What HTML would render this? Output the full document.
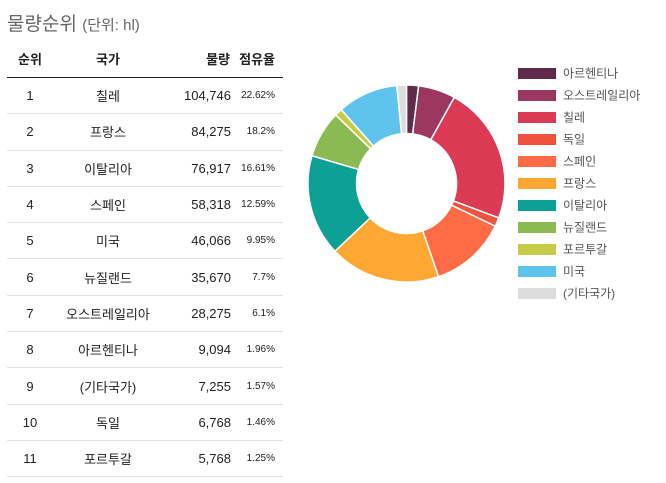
<!DOCTYPE html>
<html><head><meta charset="utf-8"><style>
body{margin:0;width:666px;height:483px;background:#fff;font-family:"Liberation Sans","Noto Sans CJK KR",sans-serif;position:relative;overflow:hidden}
.title{position:absolute;left:7px;top:9px;font-size:19px;color:#666}
.title span{font-size:15px}
table{position:absolute;left:7px;top:40px;width:276px;border-collapse:collapse;font-size:13px;color:#222}
th{height:35px;font-weight:bold;border-bottom:1.5px solid #222;font-size:13px}
td{height:35.3px;border-bottom:1px solid #e2e2e2;padding:0}
.c1{text-align:center;width:44px}.c2{text-align:center;width:108px}.c3{text-align:right;width:66px}.c4{text-align:right;font-size:10px;padding-right:8px}
th.c3{text-align:right}th.c4{text-align:right;font-size:13px}
#legend text{font-size:12px;fill:#555}
</style></head><body>
<div class="title">물량순위 <span>(단위: hl)</span></div>
<table><thead><tr><th class="c1">순위</th><th class="c2">국가</th><th class="c3">물량</th><th class="c4">점유율</th></tr></thead><tbody id="tb"></tbody></table>
<svg id="chart" width="666" height="483" style="position:absolute;left:0;top:0"><g id="slices"></g><g id="legend"></g></svg>
<script>
const tableCountries=["칠레","프랑스","이탈리아","스페인","미국","뉴질랜드","오스트레일리아","아르헨티나","(기타국가)","독일","포르투갈"];
const tableVolumes=[104746,84275,76917,58318,46066,35670,28275,9094,7255,6768,5768];
const tableShares=["22.62%","18.2%","16.61%","12.59%","9.95%","7.7%","6.1%","1.96%","1.57%","1.46%","1.25%"];
const sliceNames=["아르헨티나","오스트레일리아","칠레","독일","스페인","프랑스","이탈리아","뉴질랜드","포르투갈","미국","(기타국가)"];
const sliceValues=[9094,28275,104746,6768,58318,84275,76917,35670,5768,46066,7255];
const sliceColors=["#612a4a","#9b3761","#db3a55","#ef5340","#fe6b45","#fea833","#0da094","#8bba52","#c6cc47","#5ec4ee","#dddddd"];
const tb=document.getElementById('tb');
tableCountries.forEach((c,i)=>{
  const tr=document.createElement('tr');
  
  
  tr.innerHTML=`<td class="c1">${i+1}</td><td class="c2">${c}</td><td class="c3">${tableVolumes[i].toLocaleString('en-US')}</td><td class="c4">${tableShares[i]}</td>`;
  tb.appendChild(tr);
});
const NS="http://www.w3.org/2000/svg";
const cx=406.5,cy=183.5,R=98.5,r=50;
const total=sliceValues.reduce((a,b)=>a+b,0);
let a0=0;
const g=document.getElementById('slices');
sliceValues.forEach((v,i)=>{
  const a1=a0+v/total*Math.PI*2;
  const p=(a,rad)=>[cx+rad*Math.sin(a),cy-rad*Math.cos(a)];
  const [x0,y0]=p(a0,R),[x1,y1]=p(a1,R),[x2,y2]=p(a1,r),[x3,y3]=p(a0,r);
  const lg=(a1-a0)>Math.PI?1:0;
  const path=document.createElementNS(NS,'path');
  path.setAttribute('d',`M${x0},${y0}A${R},${R} 0 ${lg} 1 ${x1},${y1}L${x2},${y2}A${r},${r} 0 ${lg} 0 ${x3},${y3}Z`);
  path.setAttribute('fill',sliceColors[i]);
  path.setAttribute('stroke','#fff');
  path.setAttribute('stroke-width','1.5');
  
  
  g.appendChild(path);
  a0=a1;
});
const lgd=document.getElementById('legend');
sliceNames.forEach((n,i)=>{
  const y=73+i*22;
  const e=document.createElementNS(NS,'g');
  
  
  e.innerHTML=`<rect x="518" y="${y-5}" width="38" height="11" fill="${sliceColors[i]}"/><text x="563" y="${y+4.5}">${n}</text>`;
  lgd.appendChild(e);
});
</script>
</body></html>
